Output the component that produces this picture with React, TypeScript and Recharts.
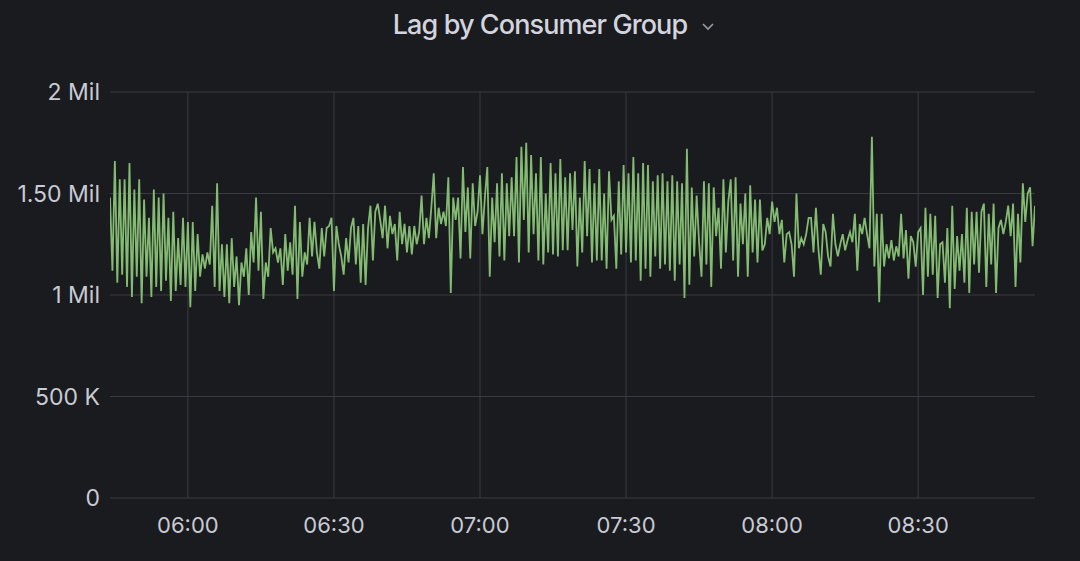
import React from "react";
import { LineChart, Line, XAxis, YAxis, CartesianGrid } from "recharts";

// Time axis (minutes since midnight)
const startMinute = 344; // 05:44
const endMinute = 534; // 08:54
const stepMinutes = 0.5; // one sample every 30 s
const xTicks = [360, 390, 420, 450, 480, 510];

// Y axis (values in thousands)
const yTicks = [0, 500, 1000, 1500, 2000];
const yTickLabels = ["0", "500 K", "1 Mil", "1.50 Mil", "2 Mil"];

// Consumer-group lag, in thousands
const lagPart1 = [
  1480, 1120, 1660, 1060, 1570, 1100, 1570, 1040, 1650, 990,
  1520, 1090, 1570, 960, 1470, 1090, 1380, 990, 1520, 1040,
  1480, 1020, 1500, 1070, 1380, 970, 1410, 1020, 1280, 1050,
  1380, 1040, 1360, 940, 1360, 1020, 1300, 1090, 1200, 1130,
  1210, 1150, 1440, 1040, 1550, 1020, 1250, 990, 1250, 960,
  1280, 1040, 1190, 950, 1160, 1090, 1230, 1000, 1310, 1160,
  1480, 1120, 1410, 980, 1160, 1090, 1330, 1210, 1230, 1160,
  1230, 1050, 1300, 1120, 1260, 1100, 1440,
];
const lagPart2 = [
  980, 1360, 1090, 1210, 1150, 1380, 1190, 1360, 1210, 1130,
  1330, 1190, 1330, 1340, 1380, 1020, 1340, 1250, 1190, 1100,
  1280, 1160, 1330, 1380, 1150, 1340, 1060, 1350, 1050, 1330,
  1440, 1170, 1410, 1450, 1370, 1280, 1440, 1230, 1390, 1300,
  1350, 1170, 1410, 1250, 1350, 1210, 1340, 1200, 1340, 1250,
  1310, 1490, 1250, 1380, 1280, 1430, 1600, 1280, 1430, 1350,
  1410, 1340, 1580, 1010, 1480, 1370, 1480, 1180, 1630, 1310,
  1530, 1180, 1550, 1340, 1410, 1590, 1300, 1480, 1630, 1090,
];
const lagPart3 = [
  1480, 1260, 1550, 1190, 1600, 1170, 1550, 1290, 1580, 1290,
  1680, 1160, 1730, 1370, 1750, 1210, 1690, 1300, 1600, 1170,
  1680, 1150, 1500, 1210, 1650, 1200, 1600, 1190, 1670, 1220,
  1580, 1220, 1600, 1320, 1610, 1140, 1480, 1210, 1660, 1290,
  1620, 1160, 1550, 1170, 1620, 1170, 1500, 1130, 1610, 1370,
  1390, 1130, 1560, 1200, 1640, 1210, 1600, 1160, 1680, 1170,
  1600, 1070, 1650, 1130, 1640, 1090, 1560, 1190, 1590, 1130,
  1600, 1150, 1560, 1120, 1590, 1070, 1560,
];
const lagPart4 = [
  1150, 1550, 985, 1720, 1050, 1530, 1190, 1490, 1260, 1090,
  1560, 1150, 1550, 1040, 1530, 1290, 1430, 1130, 1570, 1210,
  1460, 1570, 1170, 1580, 1090, 1450, 1250, 1500, 1090, 1540,
  1210, 1470, 1160, 1470, 1220, 1250, 1380, 1300, 1460, 1360,
  1430, 1300, 1370, 1160, 1300, 1310, 1250, 1090, 1500, 1230,
  1280, 1250, 1300, 1380, 1380, 1210, 1430, 1230, 1100, 1350,
  1310, 1190, 1140, 1400, 1250, 1190, 1250, 1300, 1220, 1270,
  1310, 1260, 1400, 1120, 1350, 1300, 1380, 1300, 1230, 1780,
];
const lagPart5 = [
  1140, 1400, 965, 1400, 1140, 1250, 1180, 1270, 1170, 1240,
  1190, 1400, 1180, 1320, 1080, 1290, 1260, 1140, 1310, 1330,
  1000, 1430, 1090, 1400, 1100, 1390, 985, 1250, 1260, 1060,
  1330, 935, 1440, 1030, 1290, 1120, 1300, 1060, 1430, 1010,
  1410, 1150, 1410, 1110, 1410, 1450, 1040, 1400, 1150, 1450,
  1010, 1330, 1370, 1300, 1360, 1440, 1290, 1450, 1040, 1400,
  1160, 1550, 1360, 1500, 1530, 1240, 1440,
];

const lagValues = [...lagPart1, ...lagPart2, ...lagPart3, ...lagPart4, ...lagPart5];
const data = lagValues.map((v, i) => ({ t: startMinute + i * stepMinutes, lag: v }));

const fmtTime = (m: number) => {
  const h = Math.floor(m / 60);
  const mm = Math.round(m - h * 60);
  return `${String(h).padStart(2, "0")}:${String(mm).padStart(2, "0")}`;
};
const fmtY = (v: number) => {
  const idx = yTicks.indexOf(v);
  return idx >= 0 ? yTickLabels[idx] : String(v);
};

const BG = "#1a1b1f";
const GRID = "#3a3b40";
const TEXT = "#c9cad4";
const FONT = "Inter, 'Noto Sans', sans-serif";

export default function App() {
  return (
    <div
      style={{
        position: "fixed",
        left: 0,
        top: 0,
        width: 1080,
        height: 561,
        background: BG,
        fontFamily: FONT,
        overflow: "hidden",
      }}
    >
      <div
        style={{
          position: "absolute",
          left: 0,
          top: 7,
          width: 1080,
          textAlign: "center",
          color: "#d3d4de",
          fontSize: 27,
          fontWeight: 500,
          letterSpacing: -0.9,
          lineHeight: "36px",
        }}
      >
        Lag by Consumer Group
      </div>
      <svg
        style={{ position: "absolute", left: 701, top: 22 }}
        width={14}
        height={10}
      >
        <polyline points="2,2 7,7 12,2" fill="none" stroke="#9a9ba3" strokeWidth={1.6} />
      </svg>
      <div style={{ position: "absolute", left: 0, top: 0 }}>
        <LineChart
          width={1080}
          height={561}
          data={data}
          margin={{ top: 92, right: 45, left: 0, bottom: 0 }}
        >
          <CartesianGrid stroke={GRID} strokeWidth={1} syncWithTicks />
          <XAxis
            dataKey="t"
            type="number"
            domain={[startMinute, endMinute]}
            ticks={xTicks}
            tickFormatter={fmtTime}
            axisLine={false}
            tickLine={false}
            tickSize={0}
            tickMargin={19}
            height={63}
            tick={{ fill: TEXT, fontSize: 22, fontFamily: FONT }}
            interval={0}
            allowDataOverflow
          />
          <YAxis
            type="number"
            domain={[0, 2000]}
            ticks={yTicks}
            tickFormatter={fmtY}
            axisLine={false}
            tickLine={false}
            tickSize={0}
            tickMargin={10}
            width={110}
            tick={{ fill: TEXT, fontSize: 23, fontFamily: FONT }}
            interval={0}
          />
          <Line
            type="linear"
            dataKey="lag"
            stroke="#84bb72"
            strokeWidth={1.8}
            dot={false}
            isAnimationActive={false}
          />
        </LineChart>
      </div>
    </div>
  );
}
